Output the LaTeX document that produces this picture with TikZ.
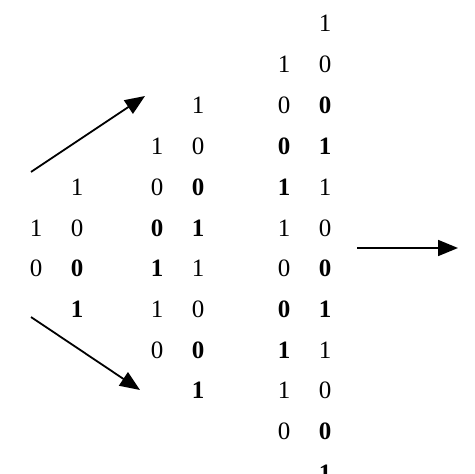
\documentclass[tikz,border=0pt]{standalone}
\usepackage{fontspec}
\setmainfont{Liberation Serif}
\usetikzlibrary{arrows.meta}
\tikzset{
  bit/.style={inner sep=0pt, font=\fontsize{12.5pt}{14pt}\selectfont},
  bbit/.style={bit, font=\fontsize{12.5pt}{14pt}\selectfont\bfseries},
  flow/.style={line width=0.9pt, -{Triangle[length=10pt,width=8pt]}}
}
\begin{document}
\begin{tikzpicture}[x=0.5pt,y=-0.5pt]
    \useasboundingbox (0,0) rectangle (474,474);
    % First code, two columns
    \node[bit]  (c1r5) at (36,228) {1};
    \node[bit]  (c1r6) at (36,268) {0};
    \node[bit]  (c2r4) at (77,187) {1};
    \node[bit]  (c2r5) at (77,228) {0};
    \node[bbit] (c2r6) at (77,268) {0};
    \node[bbit] (c2r7) at (77,309) {1};

    % Second code
    \node[bit]  (c3r3) at (157,146) {1};
    \node[bit]  (c3r4) at (157,187) {0};
    \node[bbit] (c3r5) at (157,228) {0};
    \node[bbit] (c3r6) at (157,268) {1};
    \node[bit]  (c3r7) at (157,309) {1};
    \node[bit]  (c3r8) at (157,350) {0};
    \node[bit]  (c4r2) at (198,105) {1};
    \node[bit]  (c4r3) at (198,146) {0};
    \node[bbit] (c4r4) at (198,187) {0};
    \node[bbit] (c4r5) at (198,228) {1};
    \node[bit]  (c4r6) at (198,268) {1};
    \node[bit]  (c4r7) at (198,309) {0};
    \node[bbit] (c4r8) at (198,350) {0};
    \node[bbit] (c4r9) at (198,390) {1};

    % Third code
    \node[bit]  (c5r1) at (284,64) {1};
    \node[bit]  (c5r2) at (284,105) {0};
    \node[bbit] (c5r3) at (284,146) {0};
    \node[bbit] (c5r4) at (284,187) {1};
    \node[bit]  (c5r5) at (284,228) {1};
    \node[bit]  (c5r6) at (284,268) {0};
    \node[bbit] (c5r7) at (284,309) {0};
    \node[bbit] (c5r8) at (284,350) {1};
    \node[bit]  (c5r9) at (284,390) {1};
    \node[bit]  (c5r10) at (284,431) {0};
    \node[bit]  (c6r0) at (325,23) {1};
    \node[bit]  (c6r1) at (325,64) {0};
    \node[bbit] (c6r2) at (325,105) {0};
    \node[bbit] (c6r3) at (325,146) {1};
    \node[bit]  (c6r4) at (325,187) {1};
    \node[bit]  (c6r5) at (325,228) {0};
    \node[bbit] (c6r6) at (325,268) {0};
    \node[bbit] (c6r7) at (325,309) {1};
    \node[bit]  (c6r8) at (325,350) {1};
    \node[bit]  (c6r9) at (325,390) {0};
    \node[bbit] (c6r10) at (325,431) {0};
    \node[bbit] (c6r11) at (325,473) {1};

    % Arrows
    \coordinate (upS) at (31,172);
    \coordinate (upE) at (145,96);
    \coordinate (dnS) at (31,317);
    \coordinate (dnE) at (140,390);
    \coordinate (rtS) at (357,248);
    \coordinate (rtE) at (458,248);
    \draw[flow] (upS) -- (upE);
    \draw[flow] (dnS) -- (dnE);
    \draw[flow] (rtS) -- (rtE);
\end{tikzpicture}
\end{document}
